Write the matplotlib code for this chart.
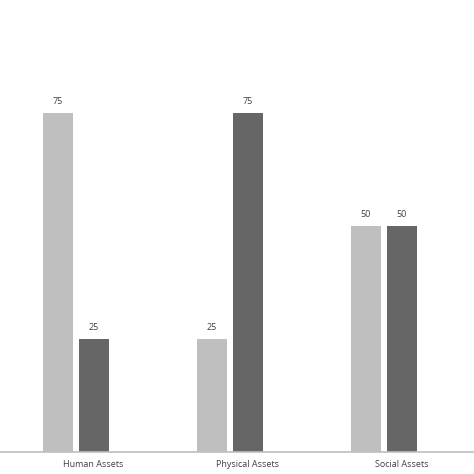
import matplotlib
matplotlib.use('Agg')
import matplotlib.pyplot as plt
import numpy as np

categories = ['Human Assets', 'Physical Assets', 'Social Assets']
series_a = [75, 25, 50]
series_b = [25, 75, 50]

fig = plt.figure(figsize=(4.74, 4.74), dpi=100)
ax = fig.add_axes([0, 22 / 474, 1, 452 / 474])

x = np.arange(len(categories))
w = 30 / 154
step = 36 / 154

bars_a = ax.bar(x - step, series_a, width=w, color='#bfbfbf')
bars_b = ax.bar(x, series_b, width=w, color='#666666')

for bars in (bars_a, bars_b):
    for b in bars:
        ax.text(b.get_x() + b.get_width() / 2, b.get_height() + 1.6, str(int(b.get_height())),
                ha='center', va='bottom', fontsize=6.5, color='#404040', family='Open Sans')

ax.set_xlim(-93.5 / 154, 474 / 154 - 93.5 / 154)
ax.set_ylim(0, 100)
ax.set_xticks(x)
ax.set_xticklabels(categories, fontsize=6.5, color='#404040', family='Open Sans')
ax.tick_params(axis='x', length=0, pad=6)
ax.set_yticks([])
for s in ['top', 'right', 'left']:
    ax.spines[s].set_visible(False)
ax.spines['bottom'].set_color('#bfbfbf')
ax.spines['bottom'].set_linewidth(1.2)

fig.savefig('out.png', dpi=100)
